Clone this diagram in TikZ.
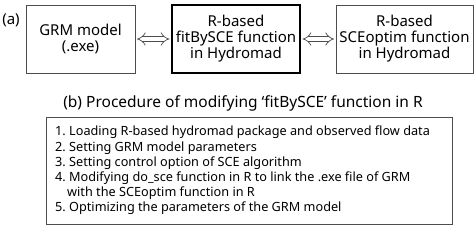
\documentclass[tikz,border=0pt]{standalone}
\usepackage{fontspec}
\setmainfont{Noto Sans}
\usetikzlibrary{positioning,arrows.meta}
\definecolor{BoxLine}{HTML}{4D4D4D}
\frenchspacing

\begin{document}
\begin{tikzpicture}[x=1pt,y=-1pt,
    modelbox/.style={draw=BoxLine, line width=0.8pt, minimum height=68pt,
      inner sep=2pt, align=center, font=\fontsize{15}{16}\selectfont},
    linkarrow/.style={draw=BoxLine, line width=0.7pt, double, double distance=4pt,
      {Implies}-{Implies}, shorten <=1.5pt, shorten >=1.5pt}
  ]
  \useasboundingbox (0,0) rectangle (474,228);

  % part (a)
  \node[font=\fontsize{15}{16}\selectfont] (lbla) at (11,20) {(a)};
  \node[modelbox, minimum width=109pt] (grm) at (80.5,39) {GRM model\\(.exe)};
  \node[modelbox, draw=black, line width=2pt, minimum width=128pt] (fit) at (236,39)
    {R-based\\fitBySCE function\\in Hydromad};
  \node[modelbox, minimum width=137pt] (sce) at (404.5,39)
    {R-based\\SCEoptim function\\in Hydromad};
  \draw[linkarrow] (grm) -- (fit);
  \draw[linkarrow] (fit) -- (sce);

  % part (b)
  \node[font=\fontsize{15.5}{16}\selectfont] (lblb) at (243,103)
    {(b) Procedure of modifying ‘fitBySCE’ function in R};
  \node[draw=BoxLine, line width=0.8pt, anchor=north west, minimum width=406pt,
    minimum height=107pt] (stepframe) at (46,117) {};
  \node[anchor=north west, inner sep=0pt, align=left,
    font=\fontsize{12.7}{15.2}\selectfont] (steps)
    at ([xshift=9pt,yshift=-9pt]stepframe.north west) {%
    1. Loading R-based hydromad package and observed flow data\\
    2. Setting GRM model parameters\\
    3. Setting control option of SCE algorithm\\
    4. Modifying do\_sce function in R to link the .exe file of GRM\\
    \hspace*{12pt}with the SCEoptim function in R\\
    5. Optimizing the parameters of the GRM model};
\end{tikzpicture}
\end{document}
